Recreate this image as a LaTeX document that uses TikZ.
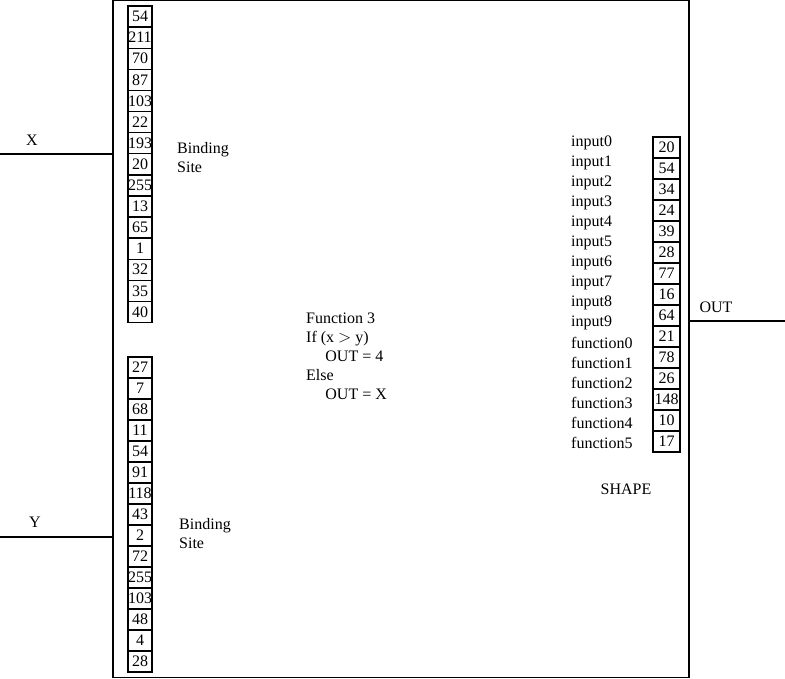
\documentclass[tikz,border=0pt]{standalone}
\usepackage{fontspec}
\setmainfont{Liberation Serif}
\begin{document}
\begin{tikzpicture}[x=1pt,y=-1pt,
  cell/.style={draw,line width=1.4pt,minimum width=24pt,inner sep=0pt,font=\fontsize{16}{16}\selectfont},
  lbl/.style={font=\fontsize{16}{19}\selectfont,inner sep=0pt},
  wire/.style={line width=2.2pt}]
\useasboundingbox (0,0) rectangle (785,678);
\node[draw,line width=1.8pt,minimum width=576pt,minimum height=677pt,inner sep=0pt] (main) at (401,339) {};
\foreach \v [count=\i] in {54,211,70,87,103,22,193,20,255,13,65,1,32,35,40}
  \node[cell,minimum height=21.1pt] (a\i) at (140,{6+10.55+(\i-1)*21.1}) {\v};
\foreach \v [count=\i] in {27,7,68,11,54,91,118,43,2,72,255,103,48,4,28}
  \node[cell,minimum height=21pt] (b\i) at (140,{357+10.5+(\i-1)*21}) {\v};
\foreach \v [count=\i] in {20,54,34,24,39,28,77,16,64,21,78,26,148,10,17}
  \node[cell,minimum width=27pt,minimum height=21pt] (c\i) at (666.5,{137+10.5+(\i-1)*21}) {\v};
\foreach \t [count=\i] in {input0,input1,input2,input3,input4,input5,input6,input7,input8,input9,function0,function1,function2,function3,function4,function5}
  \node[lbl,anchor=west] (r\i) at (571,{143+(\i-1)*20}) {\t};
\node[lbl,anchor=north west,align=left] (bs1) at (177,142) {Binding\\Site};
\node[lbl,anchor=north west,align=left] (bs2) at (179,518) {Binding\\Site};
\node[lbl,anchor=north west,align=left] (fn) at (306,313) {Function 3\\If (x $>$ y)\\\hspace{1.2em}OUT = 4\\Else\\\hspace{1.2em}OUT = X};
\node[lbl] (shape) at (626,489) {SHAPE};
\coordinate (xs) at (0,154); \coordinate (xe) at (113,154);
\coordinate (ys) at (0,537); \coordinate (ye) at (113,537);
\coordinate (os) at (689,321); \coordinate (oe) at (785,321);
\draw[wire] (xs) -- (xe); \draw[wire] (ys) -- (ye); \draw[wire] (os) -- (oe);
\node[lbl] (xl) at (32,140) {X};
\node[lbl] (yl) at (35,522) {Y};
\node[lbl] (ol) at (716,307) {OUT};
\end{tikzpicture}
\end{document}
